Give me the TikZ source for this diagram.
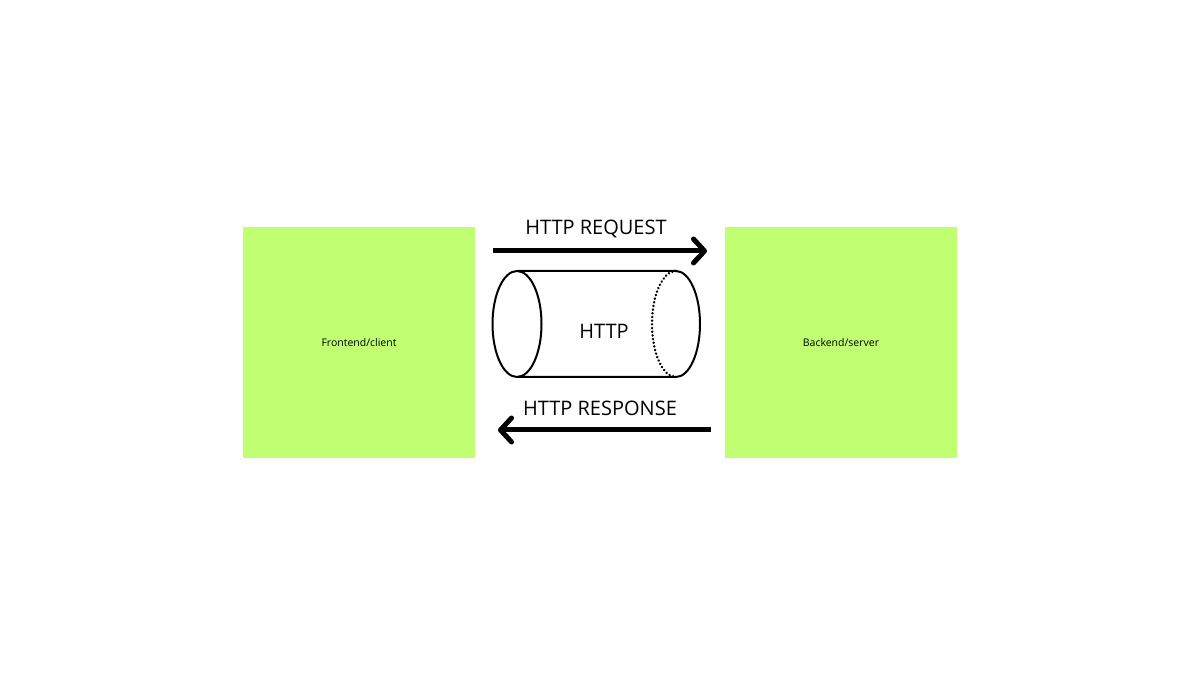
\documentclass[tikz,border=0pt]{standalone}
\usepackage{fontspec}
\setmainfont{Open Sans}
\usetikzlibrary{arrows.meta}
\definecolor{boxgreen}{HTML}{C1FF72}
\tikzset{
  greenbox/.style={fill=boxgreen, draw=none, minimum width=232pt, minimum height=231pt, inner sep=0pt, font=\fontsize{10.5}{12}\selectfont},
  bigarrow/.style={line width=5pt, -{Straight Barb[length=11pt,width=24pt,round]}},
  biglabel/.style={font=\fontsize{20}{24}\selectfont, inner sep=0pt},
  cyl/.style={line width=2pt}
}
\begin{document}
\begin{tikzpicture}[x=1pt,y=1pt]
\fill[white] (0,0) rectangle (1200,675);
\useasboundingbox (0,0) rectangle (1200,675);
\node[greenbox] (client) at (359,332.5) {Frontend/client};
\node[greenbox] (server) at (841,332.5) {Backend/server};
% cylinder
\draw[cyl] (517,351) ellipse [x radius=24.5, y radius=53];
\draw[cyl] (517,404) -- (676,404) arc[start angle=90, end angle=-90, x radius=24, y radius=53] -- (517,298);
\draw[line width=2.6pt, dash pattern=on 0.1pt off 3.6pt, line cap=round] (676,404) arc[start angle=90, end angle=270, x radius=24, y radius=53];
\node[biglabel] (http) at (604,344) {HTTP};
% arrows
\coordinate (reqS) at (493,424);
\coordinate (reqE) at (707,424);
\coordinate (resS) at (711,245);
\coordinate (resE) at (498,245);
\draw[bigarrow] (reqS) -- (reqE);
\draw[bigarrow] (resS) -- (resE);
\node[biglabel] (reqlabel) at (596,446) {HTTP REQUEST};
\node[biglabel] (reslabel) at (600,267) {HTTP RESPONSE};
\end{tikzpicture}
\end{document}
